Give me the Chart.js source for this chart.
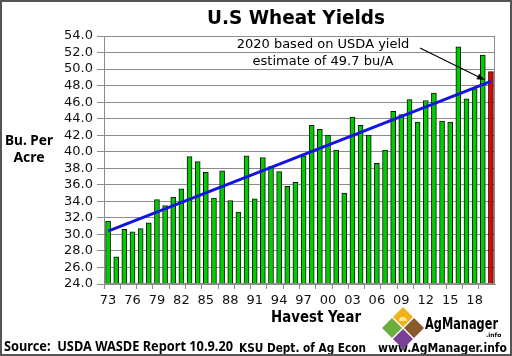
<!DOCTYPE html>
<html><head><meta charset="utf-8">
<script src="https://cdn.jsdelivr.net/npm/chart.js@4/dist/chart.umd.min.js"></script>
<style>html,body{margin:0;padding:0;background:#fff}canvas{display:block}</style>
</head><body>
<canvas id="c" width="512" height="356"></canvas>
<script>
const years = [1973,1974,1975,1976,1977,1978,1979,1980,1981,1982,1983,1984,1985,1986,1987,1988,1989,1990,1991,1992,1993,1994,1995,1996,1997,1998,1999,2000,2001,2002,2003,2004,2005,2006,2007,2008,2009,2010,2011,2012,2013,2014,2015,2016,2017,2018,2019,2020];
const yields = [31.6,27.3,30.6,30.3,30.7,31.4,34.2,33.5,34.5,35.5,39.4,38.8,37.5,34.4,37.7,34.1,32.7,39.5,34.3,39.3,38.2,37.6,35.8,36.3,39.5,43.2,42.7,42.0,40.2,35.0,44.2,43.2,42.0,38.6,40.2,44.9,44.5,46.3,43.6,46.2,47.1,43.7,43.6,52.7,46.4,47.6,51.7,49.7];
const trendStart = 30.4;
const trendEnd = 48.5;
const yTicks = [24,26,28,30,32,34,36,38,40,42,44,46,48,50,52,54];
const xTickYears = [1973,1976,1979,1982,1985,1988,1991,1994,1997,2000,2003,2006,2009,2012,2015,2018];

const labels = years.map(y => String(y % 100).padStart(2,'0'));
const trend = years.map((y,i) => i === 0 ? trendStart : (i === years.length-1 ? trendEnd : null));
const barColors = years.map((y,i) => i === years.length-1 ? '#e80000' : '#00cc00');

const FONT = '"DejaVu Sans", Verdana, sans-serif';
const FONT2 = '"Noto Sans", "Open Sans", sans-serif';

const decor = {
  id: 'decor',
  beforeDraw(chart) {
    const ctx = chart.ctx;
    ctx.save();
    ctx.fillStyle = '#fff';
    ctx.fillRect(0,0,chart.width,chart.height);
    ctx.restore();
  },
  afterDatasetsDraw(chart) {
    const ctx = chart.ctx;
    const a = chart.chartArea;
    const xs = chart.scales.x, ys = chart.scales.y;
    ctx.save();
    ctx.strokeStyle = '#8c8c8c';
    ctx.lineWidth = 1;
    ctx.strokeRect(a.left+0.5, a.top+0.5, a.right-a.left-1, a.bottom-a.top-1);
    ctx.fillStyle = '#000';
    ctx.font = '13px ' + FONT;
    ctx.textAlign = 'center';
    ctx.textBaseline = 'middle';
    ctx.fillText('2020 based on USDA yield', 323, 45);
    ctx.fillText('estimate of 49.7 bu/A', 323, 62);
    const ex = xs.getPixelForValue(46.2), ey = ys.getPixelForValue(48.7);
    const sx = 420, sy = 48;
    ctx.strokeStyle = '#000';
    ctx.lineWidth = 1.2;
    ctx.beginPath(); ctx.moveTo(sx,sy); ctx.lineTo(ex,ey); ctx.stroke();
    const ang = Math.atan2(ey-sy, ex-sx);
    ctx.fillStyle = '#000';
    ctx.beginPath();
    ctx.moveTo(ex,ey);
    ctx.lineTo(ex-8*Math.cos(ang-0.4), ey-8*Math.sin(ang-0.4));
    ctx.lineTo(ex-8*Math.cos(ang+0.4), ey-8*Math.sin(ang+0.4));
    ctx.closePath(); ctx.fill();
    ctx.restore();
  },
  afterDraw(chart) {
    const ctx = chart.ctx;
    ctx.save();
    ctx.fillStyle = '#000';
    ctx.textBaseline = 'middle';
    ctx.textAlign = 'center';
    ctx.font = 'bold 19px ' + FONT;
    ctx.fillText('U.S Wheat Yields', 296, 19, 178);
    ctx.font = 'bold 14px ' + FONT2;
    ctx.fillText('Bu. Per', 29, 141, 48);
    ctx.fillText('Acre', 29, 158);
    ctx.font = 'bold 15px ' + FONT;
    ctx.fillText('Havest Year', 316, 318, 90);
    ctx.textAlign = 'left';
    ctx.font = 'bold 15px ' + FONT2;
    ctx.fillText('Source:  USDA WASDE Report 10.9.20', 4, 347, 229);
    ctx.font = 'bold 12px ' + FONT;
    ctx.fillText('KSU Dept. of Ag Econ', 239, 349, 127);
    ctx.font = 'bold 13px ' + FONT;
    ctx.fillText('www.AgManager.info', 378, 349, 129);
    const d = (cx, cy, r, col) => {
      ctx.fillStyle = col;
      ctx.beginPath();
      ctx.moveTo(cx, cy-r); ctx.lineTo(cx+r, cy); ctx.lineTo(cx, cy+r); ctx.lineTo(cx-r, cy);
      ctx.closePath(); ctx.fill();
    };
    d(403, 317, 10, '#f2b21c');
    d(392, 328, 10, '#6cae3e');
    d(414, 328, 10, '#8a5a2c');
    d(403, 339, 10, '#7b3f98');
    ctx.fillStyle = '#ffe9a0';
    ctx.beginPath(); ctx.arc(403, 321, 4, Math.PI, 0); ctx.fill();
    ctx.fillStyle = '#000';
    ctx.font = 'bold 15px ' + FONT;
    ctx.fillText('AgManager', 425, 325, 73);
    ctx.font = 'bold 6px ' + FONT;
    ctx.fillText('.info', 486, 335);
    ctx.strokeStyle = '#555';
    ctx.lineWidth = 2;
    ctx.strokeRect(1, 1, chart.width-2, chart.height-2);
    ctx.restore();
  }
};

new Chart(document.getElementById('c'), {
  data: {
    labels: labels,
    datasets: [
      { type: 'line', data: trend, spanGaps: true, borderColor: '#1414e0', borderWidth: 3, pointRadius: 0, order: 0, fill: false },
      { type: 'bar', data: yields, backgroundColor: barColors, borderColor: '#111', borderWidth: 1, barThickness: 5, order: 1 }
    ]
  },
  options: {
    responsive: false,
    animation: false,
    devicePixelRatio: 1,
    layout: { padding: { left: 0, right: 17, top: 36, bottom: 0 } },
    plugins: { legend: { display: false }, tooltip: { enabled: false }, title: { display: false } },
    scales: {
      x: {
        type: 'category',
        offset: true,
        afterFit(s) { s.height = 72; },
        grid: {
          display: true,
          offset: true,
          drawOnChartArea: false,
          tickLength: 5,
          tickColor: (c) => (c.index % 2 === 0 ? '#8c8c8c' : 'rgba(0,0,0,0)'),
          color: '#8c8c8c'
        },
        border: { display: true, color: '#8c8c8c' },
        ticks: {
          autoSkip: false, maxRotation: 0, minRotation: 0, padding: 4,
          color: '#111', font: { family: FONT, size: 13 },
          callback: (v, i) => (xTickYears.includes(years[i]) ? labels[i] : '')
        }
      },
      y: {
        min: 24, max: 54,
        afterFit(s) { s.width = 104; },
        afterBuildTicks(s) { s.ticks = yTicks.map(v => ({ value: v })); },
        grid: { color: '#8c8c8c', tickLength: 7, tickColor: '#8c8c8c' },
        border: { display: true, color: '#8c8c8c' },
        ticks: {
          autoSkip: false,
          padding: 4, color: '#111', font: { family: FONT, size: 13 },
          callback: (v) => Number(v).toFixed(1)
        }
      }
    }
  },
  plugins: [decor]
});
</script>
</body></html>
